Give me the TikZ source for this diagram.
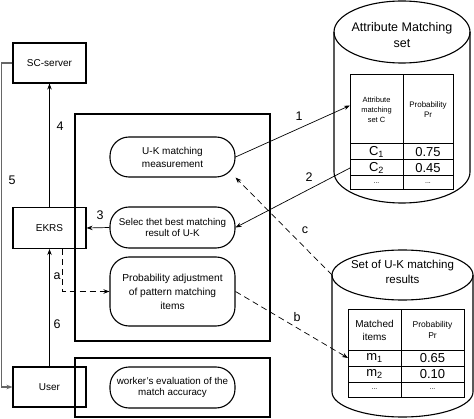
\documentclass[tikz,border=0pt]{standalone}
\usepackage{fontspec}
\setmainfont{Liberation Sans}
\usetikzlibrary{positioning,shapes.geometric,arrows.meta}

\begin{document}
\begin{tikzpicture}[%
		x=1pt, y=1pt,
		>={Stealth[length=6pt,width=4.5pt]},
		font=\fontsize{10}{13}\selectfont,
		box/.style={%
			draw,
			line width=1.1pt,
			minimum width=73pt,
			minimum height=40pt
		},
		frame/.style={draw, line width=1.3pt, minimum width=195pt},
		roundbox/.style={%
			draw,
			line width=1.1pt,
			rounded corners=19pt,
			minimum width=125pt,
			align=center,
			inner sep=2pt
		},
		store/.style={ellipse, draw, line width=1.1pt, inner sep=0pt, outer sep=0pt},
		cell/.style={draw, line width=1pt, inner sep=0pt, outer sep=0pt, align=center,
			font=\fontsize{13}{14}\selectfont},
		flow/.style={->, line width=0.7pt},
		dashflow/.style={flow, dash pattern=on 6pt off 4pt},
		num/.style={font=\fontsize{12.5}{14}\selectfont}
		]
		\useasboundingbox (0,0) rectangle (474,418);
		
		% frames
		\node[frame, minimum height=227pt] (upper) at (172.5,190.5) {};
		\node[frame, minimum height=59pt]  (lower) at (172.5,30.5)  {};
		
		% left column
		\node[box]                     (sc)   at (49.5,355) {SC-server};
		\node[box, minimum height=41pt] (ekrs) at (49.5,190) {EKRS};
		\node[box]                     (user) at (49.5,31)  {User};
		
		% processes
		\node[roundbox, minimum height=40pt] (uk) at (172.5,261) {U-K matching\\measurement};
		\node[roundbox, minimum height=41pt, font=\fontsize{9.8}{11.7}\selectfont] (sel) at (172.5,190.5) {Selec thet best matching\\result of U-K};
		\node[roundbox, minimum height=69pt, font=\fontsize{10.2}{14}\selectfont] (prob) at (172.5,126.5) {Probability adjustment\\of pattern matching\\items};
		\node[roundbox, minimum height=41pt, font=\fontsize{9.8}{11.7}\selectfont] (eval) at (172.5,30.5) {worker's evaluation of the\\match accuracy};
		
		% attribute matching set
		\node[store, minimum width=136pt, minimum height=62pt] (top1) at (402,386) {};
		\draw[line width=1.1pt] (top1.west) -- ++(0,-140)
			arc[start angle=180, end angle=360, x radius=68pt, y radius=31pt] -- (top1.east);
		\node[align=center, font=\fontsize{12.5}{16}\selectfont] (name1) at (402,383) {Attribute Matching\\set};
		
		\node[cell, minimum width=53pt, minimum height=69pt, font=\fontsize{7.5}{10}\selectfont] (attr) at (376.5,308.5) {Attribute\\matching\\set C};
		\node[cell, minimum width=50pt, minimum height=69pt, font=\fontsize{8}{10.5}\selectfont, right=0pt of attr] (pra) {Probability\\Pr};
		\node[cell, minimum width=53pt, minimum height=16pt, below=0pt of attr] (c1) {C\textsubscript{1}};
		\node[cell, minimum width=50pt, minimum height=16pt, right=0pt of c1]   (v1) {0.75};
		\node[cell, minimum width=53pt, minimum height=16pt, below=0pt of c1]   (c2) {C\textsubscript{2}};
		\node[cell, minimum width=50pt, minimum height=16pt, right=0pt of c2]   (v2) {0.45};
		\node[cell, minimum width=53pt, minimum height=14pt, below=0pt of c2, font=\fontsize{7}{8}\selectfont] (c3) {...};
		\node[cell, minimum width=50pt, minimum height=14pt, right=0pt of c3, font=\fontsize{7}{8}\selectfont] (v3) {...};
		
		% set of u-k matching results
		\node[store, minimum width=141pt, minimum height=50pt] (top2) at (402.5,143) {};
		\draw[line width=1.1pt] (top2.west) -- ++(0,-117)
			arc[start angle=180, end angle=360, x radius=70.5pt, y radius=25pt] -- (top2.east);
		\node[align=center, font=\fontsize{11.5}{15}\selectfont] (name2) at (402.5,146) {Set of U-K matching\\results};
		
		\node[cell, minimum width=53pt, minimum height=40pt, font=\fontsize{10}{13}\selectfont] (match) at (374.5,88) {Matched\\items};
		\node[cell, minimum width=63pt, minimum height=40pt, font=\fontsize{8.5}{11}\selectfont, right=0pt of match] (prb) {Probability\\Pr};
		\node[cell, minimum width=53pt, minimum height=16pt, below=0pt of match] (m1) {m\textsubscript{1}};
		\node[cell, minimum width=63pt, minimum height=16pt, right=0pt of m1]    (w1) {0.65};
		\node[cell, minimum width=53pt, minimum height=16pt, below=0pt of m1]    (m2) {m\textsubscript{2}};
		\node[cell, minimum width=63pt, minimum height=16pt, right=0pt of m2]    (w2) {0.10};
		\node[cell, minimum width=53pt, minimum height=15pt, below=0pt of m2, font=\fontsize{7}{8}\selectfont] (m3) {...};
		\node[cell, minimum width=63pt, minimum height=15pt, right=0pt of m3, font=\fontsize{7}{8}\selectfont] (w3) {...};
		
		% connectors
		\draw[->, line width=1.3pt, gray!80!black] (sc.west) -- ++(-11,0) |- (user.west);
		\draw[flow] (ekrs.north) -- (sc.south);
		\draw[flow] (user.north) -- (ekrs.south);
		\draw[flow] (sel.west) -- (ekrs.east);
		\draw[flow] (uk.east) -- ([yshift=4pt]attr.west);
		\draw[flow] (c2.west) -- (sel.east);
		\draw[dashflow] (top2.west) -- (uk.south east);
		\draw[dashflow] (prob.east) -- (m1.west);
		\draw[dashflow, line width=1pt] ([xshift=12.5pt]ekrs.south) |- (prob.west);
		
		% labels
		\node[num] (l1) at (299,302) {1};
		\node[num] (l2) at (309,241) {2};
		\node[num] (l3) at (100,203) {3};
		\node[num] (l4) at (60,292)  {4};
		\node[num] (l5) at (12,238)  {5};
		\node[num] (l6) at (57,94)   {6};
		\node[num] (la) at (57,142)  {a};
		\node[num] (lb) at (297,101) {b};
		\node[num] (lc) at (305,188) {c};
	\end{tikzpicture}
\end{document}
